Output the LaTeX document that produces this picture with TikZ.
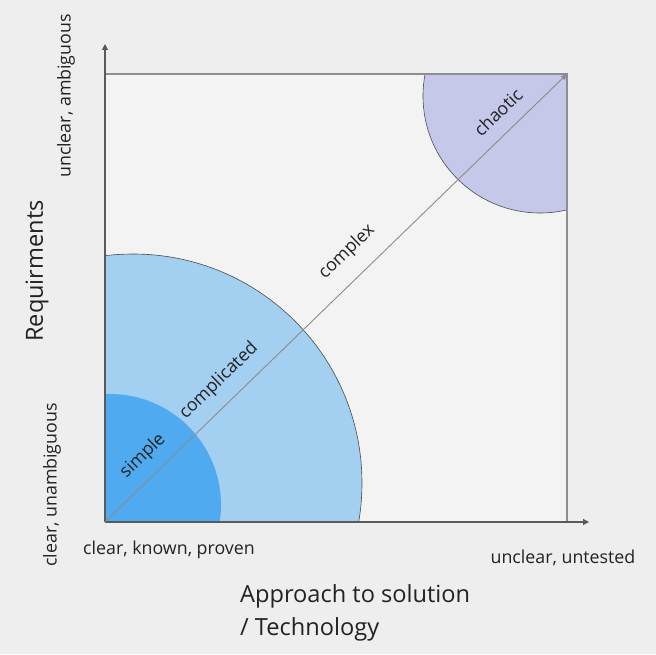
\documentclass[tikz,border=0pt]{standalone}
\usepackage{fontspec}
\setmainfont{Open Sans}
\usetikzlibrary{arrows.meta}
\definecolor{bg}{HTML}{EEEEEE}
\definecolor{sq}{HTML}{F3F3F3}
\definecolor{lblue}{HTML}{A3CFF1}
\definecolor{dblue}{HTML}{4FAAEF}
\definecolor{lav}{HTML}{C5C8E8}
\definecolor{txt}{HTML}{222222}
\definecolor{axis}{HTML}{5A5A5A}
\definecolor{frame}{HTML}{8E8E8E}
\tikzset{
  lbl/.style={text=txt, font=\fontsize{17.8}{21}\selectfont, inner sep=0pt},
  biglbl/.style={text=txt, font=\fontsize{23.6}{33}\selectfont, inner sep=0pt},
  diaglbl/.style={lbl, rotate=44.1},
  axisline/.style={draw=axis, line width=1.2pt, -{Triangle[length=6pt,width=6pt]}},
  arrowtip/.style={-{Triangle[length=6pt,width=5pt]}}
}
\begin{document}
\begin{tikzpicture}[x=1pt,y=1pt]
\useasboundingbox (0,0) rectangle (656,654);
\fill[bg] (0,0) rectangle (656,654);
\coordinate (O) at (105,132);
\coordinate (C) at (567,580);
\coordinate (TL) at (105,580);
\coordinate (BR) at (567,132);
\fill[sq] (O) rectangle (C);
\begin{scope}
  \clip (O) rectangle (C);
  \filldraw[fill=lblue, draw=black!70, line width=0.6pt] (133,171) circle[radius=229];
  \fill[dblue] (110,149) circle[radius=111];
  \filldraw[fill=lav, draw=black!70, line width=0.6pt] (540,558) circle[radius=117];
\end{scope}
\draw[frame, line width=1.3pt] (TL) -- (C) -- (BR);
\coordinate (YE) at (105,610);
\coordinate (XE) at (589,132);
\draw[axisline] (O) -- (YE);
\draw[axisline] (O) -- (XE);
\draw[draw=black!45, line width=0.9pt, arrowtip] (O) -- (C);
\node[diaglbl] (simple) at (143,198) {simple};
\node[diaglbl] (complicated) at (219,273) {complicated};
\node[diaglbl] (complex) at (347,402) {complex};
\node[diaglbl] (chaotic) at (498,542) {chaotic};
\node[lbl, rotate=90] (ua) at (66,558) {unclear, ambiguous};
\node[lbl, rotate=90] (cu) at (52,169) {clear, unambiguous};
\node[biglbl, rotate=90] (req) at (37,383) {Requirments};
\node[lbl] (ckp) at (169,104) {clear, known, proven};
\node[lbl] (uu) at (563,96) {unclear, untested};
\node[biglbl, anchor=base west] (app) at (240,52) {Approach to solution};
\node[biglbl, anchor=base west] (tech) at (240,19) {/ Technology};
\end{tikzpicture}
\end{document}
